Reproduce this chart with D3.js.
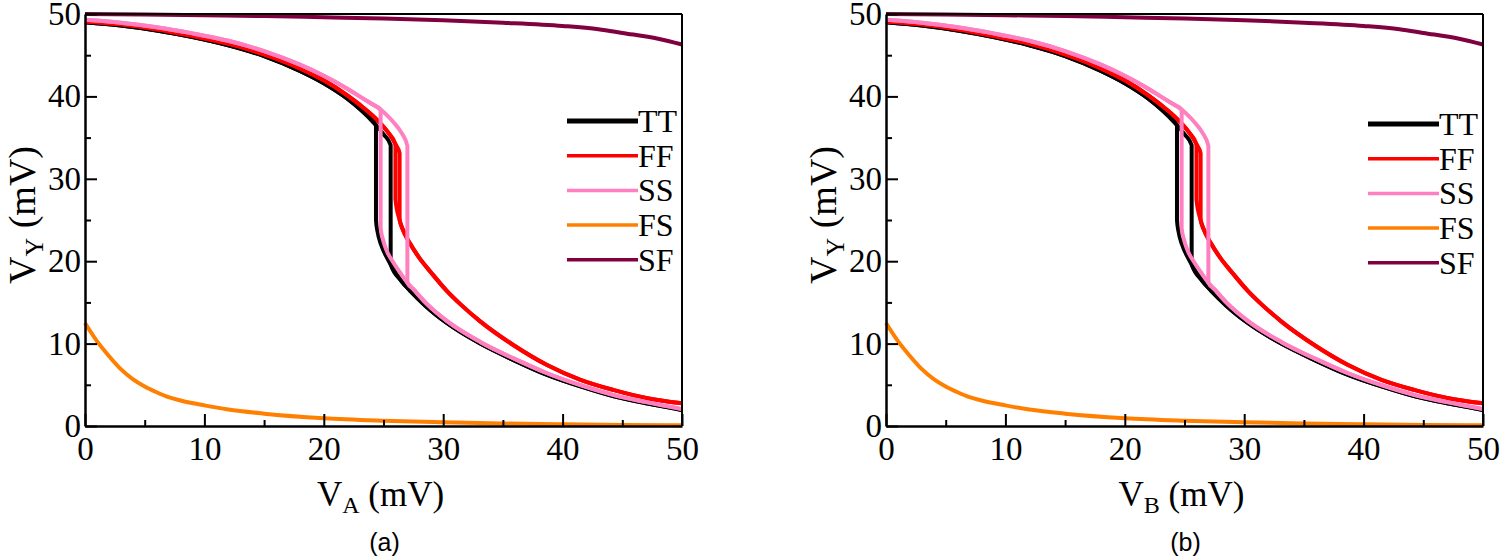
<!DOCTYPE html>
<html>
<head>
<meta charset="utf-8">
<script src="https://cdn.jsdelivr.net/npm/d3@7"></script>
<style>
  html, body { margin: 0; padding: 0; background: #fff; }
  svg { display: block; }
  .tick text { font-family: "Liberation Serif", "Times New Roman", serif; fill: #000; }
</style>
</head>
<body>
<div id="chart"></div>
<script>
// curve data: [V_in (mV), V_Y (mV)]
// upper branch (output high) and lower branch (output low) for each corner
const ttUp = [[0,49.0],[3,48.6],[6,48.0],[9,47.2],[12,46.2],[15,44.9],[18,43.1],[20,41.6],[22,39.7],[23,38.5],[24.37,36.5],[25.0,35.4],[25.6,34.1]];
const ttDn = [[24.37,25.0],[24.5,23.6],[24.8,22.0],[25.3,20.4],[25.6,19.6],[26.5,17.6],[27.3,16.3],[28.5,14.6],[30.3,12.5],[33.1,10.0],[35.9,8.0],[38.7,6.2],[41.5,4.8],[44.3,3.6],[47,2.75],[50,1.95]];

const ffUp = [[0,49.1],[3,48.75],[6,48.15],[9,47.35],[12,46.4],[15,45.1],[18,43.4],[20,41.95],[22,40.1],[23,39.0],[24.5,37.1],[25.4,35.6],[26.0,34.2],[26.35,33.1]];
const ffDn = [[26.0,27.5],[26.35,25.0],[26.6,23.9],[27.2,22.2],[28.0,20.4],[29,18.6],[30.3,16.4],[31.5,14.7],[33.1,12.7],[35.9,9.8],[38.7,7.4],[41.5,5.6],[44.3,4.35],[47,3.4],[50,2.75]];

const ssUp = [[0,49.3],[3,48.95],[6,48.4],[9,47.65],[12,46.75],[15,45.5],[18,43.85],[20,42.5],[22,40.9],[23,40.0],[24,39.1],[24.76,38.4],[25.3,37.7],[25.82,36.9],[26.5,35.6],[27.0,34.0]];
const ssDn = [[24.76,24.0],[25.0,22.4],[25.26,21.3],[25.8,19.9],[26.4,18.6],[27.0,17.4],[27.5,16.6],[28.5,15.0],[30.3,12.75],[33.1,10.2],[35.9,8.2],[38.7,6.4],[41.5,4.95],[44.3,3.75],[47,2.9],[50,2.05]];

const fsX = [0,1,2,3,4,5,6,7,8,10,12,15,20,25,30,35,40,45,50];
const fsY = [12.5,10.3,8.5,6.9,5.7,4.8,4.1,3.5,3.1,2.5,2.0,1.5,0.95,0.65,0.45,0.3,0.2,0.12,0.08];

const sfX = [0,5,10,15,20,25,30,35,40,43,45,48,50];
const sfY = [50.0,49.95,49.85,49.75,49.6,49.45,49.25,48.95,48.55,48.15,47.7,47.0,46.3];

const corners = ["TT", "FF", "SS", "FS", "SF"];
const colors = { TT: "#000000", FF: "#ff0000", SS: "#ff80c0", FS: "#ff8000", SF: "#800040" };
const majorTicks = [0, 10, 20, 30, 40, 50];
const minorTicks = [5, 15, 25, 35, 45];
const panelNames = ["(a)", "(b)"];
const inputSubs = ["A", "B"];

(() => {
  const W = 1500, H = 558;
  const PW = 597, PH = 412;
  const SERIF = "Liberation Serif, Times New Roman, serif";

  const svg = d3.select("#chart").append("svg")
    .attr("width", W).attr("height", H)
    .attr("viewBox", `0 0 ${W} ${H}`);

  const x = d3.scaleLinear().domain([0, 50]).range([0, PW]);
  const y = d3.scaleLinear().domain([0, 50]).range([PH, 0]);
  const line = d3.line().curve(d3.curveMonotoneX).x(d => x(d[0])).y(d => y(d[1]));

  // forward sweep: upper branch until it falls, then lower branch
  // backward sweep: lower branch until it jumps, then upper branch
  function sweeps(up, dn) {
    const xHigh = up[up.length - 1][0];
    const xLow = dn[0][0];
    const fwd = up.filter(d => d[0] <= xHigh).concat(dn.filter(d => d[0] >= xHigh));
    const bwd = up.filter(d => d[0] <= xLow).concat(dn.filter(d => d[0] >= xLow));
    return [fwd, bwd];
  }

  const series = {
    TT: sweeps(ttUp, ttDn),
    FF: sweeps(ffUp, ffDn),
    SS: sweeps(ssUp, ssDn),
    FS: [fsX.map((v, i) => [v, fsY[i]])],
    SF: [sfX.map((v, i) => [v, sfY[i]])],
  };

  const panels = [
    { left: 85, top: 14, legendTop: 107 },
    { left: 886, top: 14, legendTop: 110 },
  ];

  panels.forEach((p, pi) => {
    const g = svg.append("g").attr("transform", `translate(${p.left},${p.top})`);

    // curves
    corners.forEach(c => {
      series[c].forEach(pts => {
        g.append("path")
          .datum(pts)
          .attr("fill", "none")
          .attr("stroke", colors[c])
          .attr("stroke-width", 4)
          .attr("stroke-linejoin", "round")
          .attr("d", line);
      });
    });

    // frame top / right
    g.append("line").attr("x1", 0).attr("x2", PW).attr("y1", 0).attr("y2", 0)
      .attr("stroke", "#000").attr("stroke-width", 2);
    g.append("line").attr("x1", PW).attr("x2", PW).attr("y1", 0).attr("y2", PH)
      .attr("stroke", "#000").attr("stroke-width", 2);

    // axes (ticks point inward)
    g.append("g").attr("transform", `translate(0,${PH})`)
      .call(d3.axisBottom(x).tickValues(majorTicks).tickSizeInner(-12).tickSizeOuter(0).tickPadding(11));
    g.append("g").attr("transform", `translate(0,${PH})`)
      .call(d3.axisBottom(x).tickValues(minorTicks).tickSizeInner(-6).tickSizeOuter(0).tickFormat(""))
      .select(".domain").remove();
    g.append("g")
      .call(d3.axisLeft(y).tickValues(majorTicks).tickSizeInner(-12).tickSizeOuter(0).tickPadding(4));
    g.append("g")
      .call(d3.axisLeft(y).tickValues(minorTicks).tickSizeInner(-6).tickSizeOuter(0).tickFormat(""))
      .select(".domain").remove();

    g.selectAll(".domain").attr("stroke-width", 2.5);
    g.selectAll(".tick line").attr("stroke-width", 2);
    g.selectAll(".tick text").attr("font-size", 33);

    // axis titles
    const yt = g.append("text")
      .attr("transform", `translate(-50,201) rotate(-90)`)
      .attr("text-anchor", "middle")
      .attr("font-family", SERIF)
      .attr("font-size", 38);
    yt.append("tspan").text("V");
    yt.append("tspan").attr("font-size", 26).attr("dy", 8).text("Y");
    yt.append("tspan").attr("dy", -8).text(" (mV)");

    const xt = g.append("text")
      .attr("x", PW / 2 - 3).attr("y", PH + 80)
      .attr("text-anchor", "middle")
      .attr("font-family", SERIF)
      .attr("font-size", 35);
    xt.append("tspan").text("V");
    xt.append("tspan").attr("font-size", 24).attr("dy", 7).text(inputSubs[pi]);
    xt.append("tspan").attr("dy", -7).text(" (mV)");

    // panel tag
    g.append("text")
      .attr("x", PW / 2 + 1).attr("y", PH + 125)
      .attr("text-anchor", "middle")
      .attr("font-family", "Liberation Sans, Arial, sans-serif")
      .attr("font-size", 25)
      .text(panelNames[pi]);

    // legend
    const lg = g.append("g").attr("transform", `translate(482,${p.legendTop})`);
    corners.forEach((c, i) => {
      const ly = i * 34.7;
      lg.append("line")
        .attr("x1", 0).attr("x2", 71).attr("y1", ly).attr("y2", ly)
        .attr("stroke", colors[c])
        .attr("stroke-width", c === "TT" ? 5 : 3.5);
      lg.append("text")
        .attr("x", 71).attr("y", ly + 11)
        .attr("font-family", SERIF)
        .attr("font-size", 32)
        .text(c);
    });
  });
})();
</script>
</body>
</html>
